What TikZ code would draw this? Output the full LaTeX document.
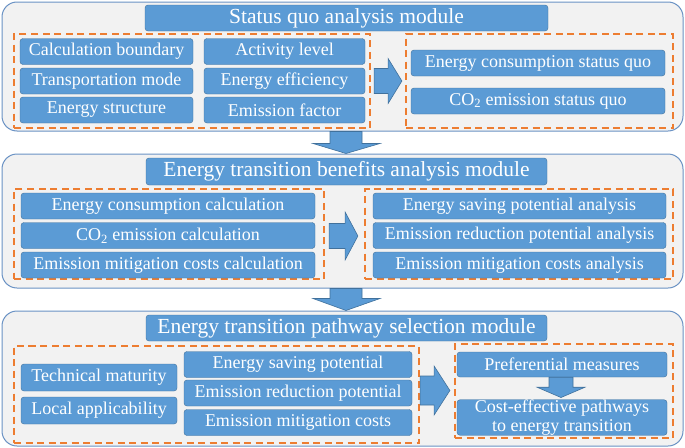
\documentclass[tikz,border=0pt]{standalone}
\usepackage{fontspec}
\setmainfont{Liberation Serif}
\usetikzlibrary{calc}
\definecolor{boxblue}{HTML}{5B9BD5}
\definecolor{boxline}{HTML}{41719C}
\definecolor{modline}{HTML}{6A92C4}
\definecolor{modfill}{HTML}{F2F2F2}
\definecolor{dashorange}{HTML}{ED7D31}
\tikzset{
    module/.style={draw=modline,fill=modfill,line width=1pt,rounded corners=15pt,inner sep=0pt},
    title/.style={draw=boxline,fill=boxblue,rounded corners=3pt,text=white,inner sep=0pt,
        font=\fontsize{21.5}{24}\selectfont},
    box/.style={draw=boxline,fill=boxblue,rounded corners=3pt,text=white,inner sep=0pt,
        align=center,font=\fontsize{18}{19}\selectfont},
    dashbox/.style={draw=dashorange,line width=2.2pt,dash pattern=on 7pt off 4.5pt,inner sep=0pt},
    blockarrow/.style={draw=boxline,fill=boxblue,line width=0.6pt}
}

\begin{document}
\begin{tikzpicture}[x=1pt,y=-1pt]
    \useasboundingbox (0,0) rectangle (685,447);
    % status quo module
    \node[module,minimum width=681pt,minimum height=129pt] (mod1) at (342.5,66.5) {};
    \node[title,minimum width=403pt,minimum height=26pt] (t1) at (346.5,18) {Status quo analysis module};
    \node[dashbox,minimum width=356pt,minimum height=94pt] (dl1) at (192,81) {};
    \node[dashbox,minimum width=267pt,minimum height=94pt] (dr1) at (539.5,81) {};
    \node[box,minimum width=173pt,minimum height=26pt] (cb) at (106.5,51.5) {Calculation boundary};
    \node[box,minimum width=161pt,minimum height=26pt] (al) at (284.5,51.5) {Activity level};
    \node[box,minimum width=173pt,minimum height=26pt] (tm) at (106.5,81) {Transportation mode};
    \node[box,minimum width=161pt,minimum height=26pt] (ee) at (284.5,81) {Energy efficiency};
    \node[box,minimum width=173pt,minimum height=26pt] (es) at (106.5,110) {Energy structure};
    \node[box,minimum width=161pt,minimum height=26pt] (ef) at (284.5,110) {Emission factor};
    \node[box,minimum width=254pt,minimum height=26pt] (ecs) at (538,63) {Energy consumption status quo};
    \node[box,minimum width=254pt,minimum height=26pt] (ces) at (538,101) {CO\textsubscript{2} emission status quo};
    \path (dl1.east) ++(3,0) coordinate (h1);
    \draw[blockarrow] ($(h1)+(0,-12.5)$) -- ($(h1)+(14,-12.5)$) -- ($(h1)+(14,-22.5)$)
        -- ($(dr1.west)+(-3,0)$) -- ($(h1)+(14,22.5)$) -- ($(h1)+(14,12.5)$) -- ($(h1)+(0,12.5)$) -- cycle;

    % benefits module
    \node[module,minimum width=681pt,minimum height=134pt] (mod2) at (342.5,221) {};
    \node[title,minimum width=401pt,minimum height=27pt] (t2) at (346.5,171.5) {Energy transition benefits analysis module};
    \node[dashbox,minimum width=310pt,minimum height=90pt] (dl2) at (169,234) {};
    \node[dashbox,minimum width=308pt,minimum height=90pt] (dr2) at (519,234) {};
    \node[box,minimum width=294pt,minimum height=26pt] (ecc) at (168,206) {Energy consumption calculation};
    \node[box,minimum width=294pt,minimum height=26pt] (cec) at (168,235.5) {CO\textsubscript{2} emission calculation};
    \node[box,minimum width=294pt,minimum height=26pt] (emc) at (168,265) {Emission mitigation costs calculation};
    \node[box,minimum width=293pt,minimum height=26pt] (esp) at (519.5,206) {Energy saving potential analysis};
    \node[box,minimum width=293pt,minimum height=26pt] (erp) at (519.5,235.5) {Emission reduction potential analysis};
    \node[box,minimum width=293pt,minimum height=26pt] (ema) at (519.5,265) {Emission mitigation costs analysis};
    \path (dl2.east) ++(4,2) coordinate (h2);
    \draw[blockarrow] ($(h2)+(0,-12.5)$) -- ($(h2)+(16,-12.5)$) -- ($(h2)+(16,-24)$)
        -- ($(dr2.west)+(-6,2)$) -- ($(h2)+(16,24)$) -- ($(h2)+(16,12.5)$) -- ($(h2)+(0,12.5)$) -- cycle;

    % pathway selection module
    \node[module,minimum width=681pt,minimum height=135pt] (mod3) at (342.5,378.5) {};
    \node[title,minimum width=401pt,minimum height=26pt] (t3) at (346.5,328) {Energy transition pathway selection module};
    \node[dashbox,minimum width=405pt,minimum height=97pt] (dl3) at (216.5,394.5) {};
    \node[dashbox,minimum width=218pt,minimum height=94pt] (dr3) at (564,391) {};
    \node[box,minimum width=156pt,minimum height=27pt] (tmat) at (99,377.5) {Technical maturity};
    \node[box,minimum width=156pt,minimum height=27pt] (lap) at (99,410.5) {Local applicability};
    \node[box,minimum width=228pt,minimum height=26pt] (espt) at (298,364.5) {Energy saving potential};
    \node[box,minimum width=228pt,minimum height=26pt] (erpt) at (298,393) {Emission reduction potential};
    \node[box,minimum width=228pt,minimum height=26pt] (emco) at (298,422.5) {Emission mitigation costs};
    \node[box,minimum width=210pt,minimum height=25pt] (pm) at (562,364.5) {Preferential measures};
    \node[box,minimum width=210pt,minimum height=35pt] (cep) at (562,417.5) {Cost-effective pathways\\to energy transition};
    \path (dl3.east) ++(0,-4) coordinate (h3);
    \draw[blockarrow] ($(h3)+(0,-14.5)$) -- ($(h3)+(14,-14.5)$) -- ($(h3)+(14,-24.5)$)
        -- ($(dr3.west)+(-4,-0.5)$) -- ($(h3)+(14,24.5)$) -- ($(h3)+(14,14.5)$) -- ($(h3)+(0,14.5)$) -- cycle;
    \path (pm.south) ++(-1,0) coordinate (v3);
    \draw[blockarrow] ($(v3)+(-12,0)$) -- ($(v3)+(12,0)$) -- ($(v3)+(12,10)$) -- ($(v3)+(24,10)$)
        -- ($(cep.north)+(-1,-2)$) -- ($(v3)+(-24,10)$) -- ($(v3)+(-12,10)$) -- cycle;

    % arrows between modules
    \path (mod1.south) ++(3.5,0) coordinate (d1);
    \draw[blockarrow] ($(d1)+(-16,0)$) -- ($(d1)+(16,0)$) -- ($(d1)+(16,12)$) -- ($(d1)+(34,12)$)
        -- ($(mod2.north)+(3.5,0)$) -- ($(d1)+(-33,12)$) -- ($(d1)+(-16,12)$) -- cycle;
    \path (mod2.south) ++(3.5,0) coordinate (d2);
    \draw[blockarrow] ($(d2)+(-16,0)$) -- ($(d2)+(16,0)$) -- ($(d2)+(16,10)$) -- ($(d2)+(34,10)$)
        -- ($(mod3.north)+(3.5,0)$) -- ($(d2)+(-33,10)$) -- ($(d2)+(-16,10)$) -- cycle;
\end{tikzpicture}
\end{document}
